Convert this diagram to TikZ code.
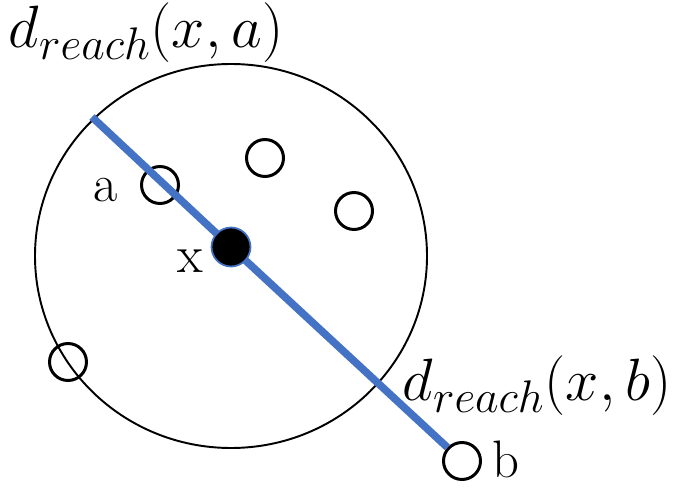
\RequirePackage{fix-cm}
\documentclass[tikz,border=0pt]{standalone}
\usepackage{amsmath}
\usepackage{tikz}
\usetikzlibrary{positioning}

\definecolor{reachblue}{HTML}{4472C4}

\newcommand{\reachsub}{\mbox{\fontsize{26}{29}\selectfont$reach$}}

\begin{document}
\begin{tikzpicture}[
		x=0.02cm, y=-0.02cm,
		point/.style={
			draw,
			circle,
			line width=1.7pt,
			minimum size=0.74cm,
			inner sep=0pt
		},
		centre/.style={
			circle,
			fill=black,
			draw=reachblue,
			line width=1pt,
			minimum size=0.78cm,
			inner sep=0pt
		},
		ptlabel/.style={font=\fontsize{30}{34}\selectfont, inner sep=0pt},
		distlabel/.style={font=\fontsize{34}{39}\selectfont, inner sep=0pt},
		reachline/.style={draw=reachblue, line width=4.3pt}
	]
		\useasboundingbox (0,0) rectangle (685,489);

		% neighbourhood of x
		\draw[line width=1.1pt] (231,256) ellipse [x radius=196, y radius=192];

		\node[point] (pta) at (160,185) {};
		\node[point] (ptc) at (265,158) {};
		\node[point] (ptd) at (354,211) {};
		\node[point] (pte) at (68,362) {};
		\node[point] (ptb) at (462,461) {};

		\coordinate (start) at (92,117);
		\coordinate (xc) at (231,247);
		\draw[reachline] (start) -- (xc) -- (ptb);
		\node[centre] (ptx) at (xc) {};

		\node[ptlabel] (la) at (106,190) {a};
		\node[ptlabel] (lx) at (190,261) {x};
		\node[ptlabel, right=2mm of ptb, yshift=1pt] (lb) {b};

		\node[distlabel] (dista) at (146,33) {$d_{\reachsub}(x,a)$};
		\node[distlabel] (distb) at (537,386) {$d_{\reachsub}(x,b)$};
	\end{tikzpicture}
\end{document}
